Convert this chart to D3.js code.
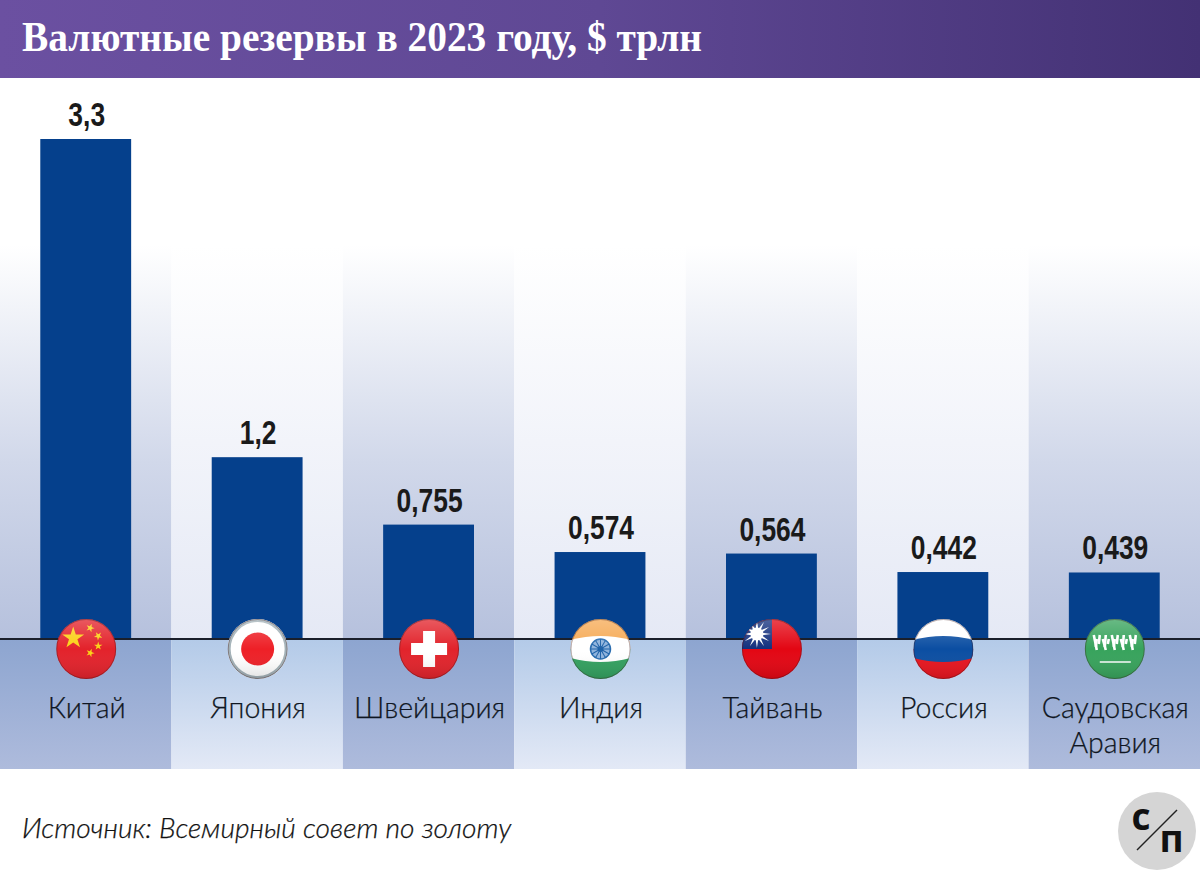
<!DOCTYPE html>
<html>
<head>
<meta charset="utf-8">
<script src="https://cdn.jsdelivr.net/npm/d3@7"></script>
<style>
  body { margin: 0; background: #fff; }
  svg { display: block; }
  .title { font-family: "Liberation Serif"; font-weight: bold; font-size: 42px; fill: #fff; }
  .value { font-family: "Liberation Sans"; font-weight: bold; font-size: 33px; fill: #1a1a1a; text-anchor: middle; }
  .country { font-family: "Lato"; font-weight: 300; font-size: 28.5px; fill: #0f1622; stroke: #0f1622; stroke-width: 0.25px; text-anchor: middle; }
  .source { font-family: "Lato"; font-weight: 300; font-style: italic; font-size: 28.2px; fill: #111; stroke: #111; stroke-width: 0.25px; }
  .logo { font-family: "Open Sans"; font-weight: bold; font-size: 37px; fill: #111; text-anchor: middle; }
</style>
</head>
<body>
<svg id="chart" width="1200" height="874"></svg>
<script>
const countries = ["Китай", "Япония", "Швейцария", "Индия", "Тайвань", "Россия", "Саудовская Аравия"];
const reserves = [3.3, 1.2, 0.755, 0.574, 0.564, 0.442, 0.439];
const valueLabels = ["3,3", "1,2", "0,755", "0,574", "0,564", "0,442", "0,439"];
const flags = ["cn", "jp", "ch", "in", "tw", "ru", "sa"];

const width = 1200, height = 874;
const baseY = 639, fadeTop = 245, stripBottom = 769;

const svg = d3.select("#chart");
const defs = svg.append("defs");

function gradient(id, stops, horizontal) {
  const g = defs.append("linearGradient").attr("id", id)
    .attr("x1", 0).attr("y1", 0)
    .attr("x2", horizontal ? 1 : 0).attr("y2", horizontal ? 0 : 1);
  stops.forEach(s => g.append("stop").attr("offset", s[0]).attr("stop-color", s[1]));
}
gradient("headerFill", [[0, "#6b50a1"], [0.5, "#5f4894"], [1, "#433174"]], true);
gradient("upDark", [[0, "#ffffff"], [0.55, "#d1d8ea"], [1, "#b6c1dd"]]);
gradient("upLight", [[0, "#ffffff"], [1, "#e5e9f5"]]);
gradient("lowDark", [[0, "#8da5d0"], [1, "#aebbdc"]]);
gradient("lowLight", [[0, "#b3cae8"], [1, "#e3e9f6"]]);
gradient("shine", [[0, "rgba(255,255,255,0.25)"], [0.5, "rgba(255,255,255,0)"], [1, "rgba(0,0,0,0.12)"]]);

const x = d3.scaleBand().domain(countries).range([0, width]);
const barX = d3.scaleBand().domain(countries).range([0, width]).paddingInner(0.47).paddingOuter(0.235);
const y = d3.scaleLinear().domain([0, 3.3]).range([baseY, 139]);

// header
svg.append("rect").attr("width", width).attr("height", 78).attr("fill", "url(#headerFill)");
svg.append("text").attr("class", "title").attr("x", 22).attr("y", 51)
  .attr("textLength", 680).attr("lengthAdjust", "spacingAndGlyphs")
  .text("Валютные резервы в 2023 году, $ трлн");

// background strips
countries.forEach((c, i) => {
  const dark = i % 2 === 0;
  svg.append("rect").attr("x", x(c)).attr("y", fadeTop).attr("width", x.bandwidth())
    .attr("height", baseY - fadeTop).attr("fill", dark ? "url(#upDark)" : "url(#upLight)");
  svg.append("rect").attr("x", x(c)).attr("y", baseY).attr("width", x.bandwidth())
    .attr("height", stripBottom - baseY).attr("fill", dark ? "url(#lowDark)" : "url(#lowLight)");
});

// bars
svg.selectAll(".bar").data(reserves).join("rect")
  .attr("class", "bar")
  .attr("x", (d, i) => barX(countries[i]))
  .attr("y", d => y(d))
  .attr("width", barX.bandwidth())
  .attr("height", d => baseY - y(d))
  .attr("fill", "#05408c");

svg.append("line").attr("x1", 0).attr("x2", width).attr("y1", baseY).attr("y2", baseY)
  .attr("stroke", "#1a1f2b").attr("stroke-width", 2);

// squeeze the labels, the original face is a condensed one
svg.selectAll(".value").data(reserves).join("text")
  .attr("class", "value")
  .attr("x", (d, i) => barX(countries[i]) + barX.bandwidth() / 2 + 1)
  .attr("y", d => y(d) - 13)
  .text((d, i) => valueLabels[i])
  .each(function() {
    d3.select(this).attr("textLength", this.getComputedTextLength() * 0.8)
      .attr("lengthAdjust", "spacingAndGlyphs");
  });

// flags
const R = 30;
function star(g, cx, cy, size, rot, fill) {
  g.append("path").attr("d", d3.symbol(d3.symbolStar, size)())
    .attr("transform", `translate(${cx},${cy}) rotate(${rot})`).attr("fill", fill);
}
const bulge = "M-30,-9Q0,-17 30,-9L30,9Q0,17 -30,9Z";
const flagDraw = {
  cn(g) {
    g.append("rect").attr("x", -R).attr("y", -R).attr("width", 2 * R).attr("height", 2 * R).attr("fill", "#e3222b");
    star(g, -13, -11, 150, 0, "#fbd116");
    star(g, 4, -21, 22, 20, "#fbd116");
    star(g, 12, -13, 22, 40, "#fbd116");
    star(g, 12, -3, 22, 0, "#fbd116");
    star(g, 4, 4, 22, 20, "#fbd116");
  },
  jp(g) {
    g.append("rect").attr("x", -R).attr("y", -R).attr("width", 2 * R).attr("height", 2 * R).attr("fill", "#fff");
    g.append("circle").attr("r", 16.5).attr("fill", "#ee2027");
    g.append("circle").attr("r", 28.5).attr("fill", "none").attr("stroke", "#a3b1b7").attr("stroke-width", 3);
  },
  ch(g) {
    g.append("rect").attr("x", -R).attr("y", -R).attr("width", 2 * R).attr("height", 2 * R).attr("fill", "#e2232b");
    g.append("rect").attr("x", -6).attr("y", -18).attr("width", 12).attr("height", 36).attr("fill", "#fff");
    g.append("rect").attr("x", -18).attr("y", -6).attr("width", 36).attr("height", 12).attr("fill", "#fff");
  },
  in(g) {
    g.append("rect").attr("x", -R).attr("y", -R).attr("width", 2 * R).attr("height", R).attr("fill", "#f6aa55");
    g.append("rect").attr("x", -R).attr("y", 0).attr("width", 2 * R).attr("height", R).attr("fill", "#33a160");
    g.append("path").attr("d", bulge).attr("fill", "#fff");
    g.append("circle").attr("r", 10).attr("fill", "#8fb3dc").attr("stroke", "#2a6db0").attr("stroke-width", 1.5);
    d3.range(12).forEach(k => g.append("line").attr("x2", 10).attr("stroke", "#1f62a8")
      .attr("stroke-width", 1).attr("transform", `rotate(${k * 30})`));
    g.append("circle").attr("r", 3).attr("fill", "#1f62a8");
  },
  tw(g) {
    g.append("rect").attr("x", -R).attr("y", -R).attr("width", 2 * R).attr("height", 2 * R).attr("fill", "#e30613");
    g.append("rect").attr("x", -R).attr("y", -R).attr("width", 30).attr("height", 30).attr("fill", "#13307e");
    d3.range(12).forEach(k => g.append("path").attr("d", "M-2,0L2,0L0,-14Z").attr("fill", "#fff")
      .attr("transform", `translate(-15,-15) rotate(${k * 30})`));
    g.append("circle").attr("cx", -15).attr("cy", -15).attr("r", 6.5).attr("fill", "#fff");
  },
  ru(g) {
    g.append("rect").attr("x", -R).attr("y", -R).attr("width", 2 * R).attr("height", R).attr("fill", "#fff");
    g.append("rect").attr("x", -R).attr("y", 0).attr("width", 2 * R).attr("height", R).attr("fill", "#e8151f");
    g.append("path").attr("d", bulge).attr("fill", "#0b4ea2");
  },
  sa(g) {
    g.append("rect").attr("x", -R).attr("y", -R).attr("width", 2 * R).attr("height", 2 * R).attr("fill", "#37a35c");
    // calligraphy is only hinted at with small strokes
    d3.range(15).forEach(k => g.append("line")
      .attr("x1", -21 + k * 3).attr("x2", -21 + k * 3 + (k % 3 === 0 ? 3 : -1))
      .attr("y1", -14 + (k % 2) * 4).attr("y2", 1 - (k % 3) * 3)
      .attr("stroke", "#fff").attr("stroke-width", 2.6));
    g.append("line").attr("x1", -15).attr("x2", 16).attr("y1", 13).attr("y2", 13)
      .attr("stroke", "#fff").attr("stroke-width", 1.6);
  }
};

countries.forEach((c, i) => {
  const cx = x(c) + x.bandwidth() / 2 + 0.5;
  const g = svg.append("g").attr("transform", `translate(${cx},649)`);
  defs.append("clipPath").attr("id", "clip" + i).append("circle").attr("r", R);
  const inner = g.append("g").attr("clip-path", `url(#clip${i})`);
  flagDraw[flags[i]](inner);
  g.append("circle").attr("r", R).attr("fill", "url(#shine)");
  g.append("circle").attr("r", R - 0.5).attr("fill", "none").attr("stroke", "rgba(60,20,20,0.35)");
});

// country names
svg.selectAll(".country").data(countries).join("text")
  .attr("class", "country")
  .attr("x", d => x(d) + x.bandwidth() / 2 + 1)
  .attr("y", 718)
  .each(function(d) {
    const parts = d.split(" ");
    d3.select(this).selectAll("tspan").data(parts).join("tspan")
      .attr("x", d3.select(this).attr("x"))
      .attr("dy", (p, k) => k ? 35 : 0)
      .text(p => p);
  });

// source
svg.append("text").attr("class", "source").attr("x", 22).attr("y", 838)
  .text("Источник: Всемирный совет по золоту");

// logo
const logo = svg.append("g").attr("transform", "translate(1157,831)");
logo.append("circle").attr("r", 39).attr("fill", "#d5d5d5");
logo.append("text").attr("class", "logo").attr("x", -16).attr("y", -1).text("с");
logo.append("text").attr("class", "logo").attr("x", 14.5).attr("y", 21).text("п");
logo.append("line").attr("x1", -20).attr("y1", 19).attr("x2", 20).attr("y2", -21)
  .attr("stroke", "#222").attr("stroke-width", 1.5);
</script>
</body>
</html>
